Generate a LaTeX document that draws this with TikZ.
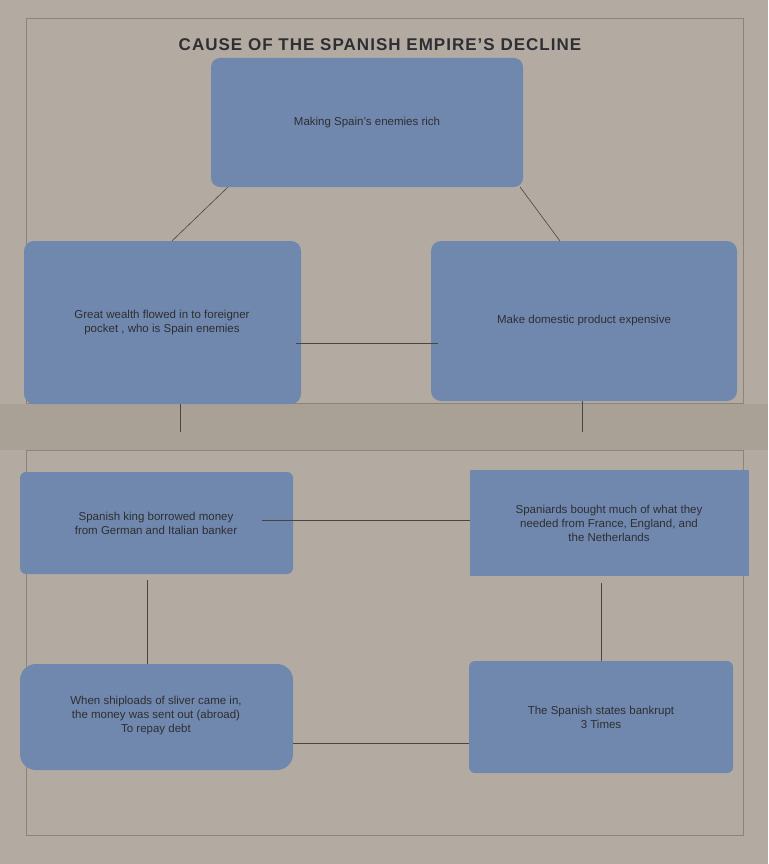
\documentclass[tikz,border=0pt]{standalone}
\usepackage{fontspec}
\setmainfont{Liberation Sans}
\begin{document}
\begin{tikzpicture}[x=1pt,y=-1pt,
  bx/.style={fill=boxc,draw=none,align=center,text=txt,font=\fontsize{11.5}{14}\selectfont,inner sep=2pt},
  ln/.style={draw=lnc,line width=0.6pt}]
\definecolor{bg}{HTML}{B3ABA1}
\definecolor{bg2}{HTML}{A9A196}
\definecolor{boxc}{HTML}{7088AD}
\definecolor{txt}{HTML}{2E2E33}
\definecolor{lnc}{HTML}{4A4540}
\definecolor{fr}{HTML}{8A847C}
\fill[bg] (0,0) rectangle (768,864);
\fill[bg2] (0,404) rectangle (768,450);
\draw[fr,line width=0.8pt] (26,18) rectangle (743,403);
\draw[fr,line width=0.8pt] (26,450) rectangle (743,835);
\node[font=\bfseries\fontsize{17}{20}\selectfont,text=txt] (t) at (380,45) {\addfontfeature{LetterSpace=6}CAUSE OF THE SPANISH EMPIRE'S DECLINE};
% connectors (under boxes)
\coordinate (c1a) at (180,404); \coordinate (c1b) at (180,432);
\coordinate (c2a) at (582,398); \coordinate (c2b) at (582,432);
\draw[ln] (c1a)--(c1b); \draw[ln] (c2a)--(c2b);
\path[bx,rounded corners=9pt] (211,58) rectangle (523,187);
\node[bx,fill=none] (b1) at (367,123) {Making Spain's enemies rich};
\path[bx,rounded corners=10pt] (24,241) rectangle (301,404);
\node[bx,fill=none] (b2) at (162,323) {Great wealth flowed in to foreigner\\pocket , who is Spain enemies};
\path[bx,rounded corners=10pt] (431,241) rectangle (737,401);
\node[bx,fill=none] (b3) at (584,321) {Make domestic product expensive};
\coordinate (a1) at (228,187); \coordinate (a2) at (172,241);
\coordinate (a3) at (520,187); \coordinate (a4) at (560,241);
\coordinate (a5) at (296,343); \coordinate (a6) at (438,343);
\draw[ln] (a1)--(a2); \draw[ln] (a3)--(a4); \draw[ln] (a5)--(a6);
% bottom
\path[bx,rounded corners=6pt] (20,472) rectangle (293,574);
\node[bx,fill=none] (b4) at (156,523) {Spanish king borrowed money\\from German and Italian banker};
\path[bx] (470,470) rectangle (749,576);
\node[bx,fill=none] (b5) at (609,523) {Spaniards bought much of what they\\needed from France, England, and\\the Netherlands};
\path[bx,rounded corners=16pt] (20,664) rectangle (293,770);
\node[bx,fill=none] (b6) at (156,716) {When shiploads of sliver came in,\\the money was sent out (abroad)\\To repay debt};
\path[bx,rounded corners=6pt] (469,661) rectangle (733,773);
\node[bx,fill=none] (b7) at (601,717) {The Spanish states bankrupt\\3 Times};
\coordinate (d1) at (262,520); \coordinate (d2) at (470,520);
\coordinate (d3) at (147,580); \coordinate (d4) at (147,664);
\coordinate (d5) at (601,583); \coordinate (d6) at (601,661);
\coordinate (d7) at (293,743); \coordinate (d8) at (469,743);
\draw[ln] (d1)--(d2); \draw[ln] (d3)--(d4); \draw[ln] (d5)--(d6); \draw[ln] (d7)--(d8);
\end{tikzpicture}
\end{document}
